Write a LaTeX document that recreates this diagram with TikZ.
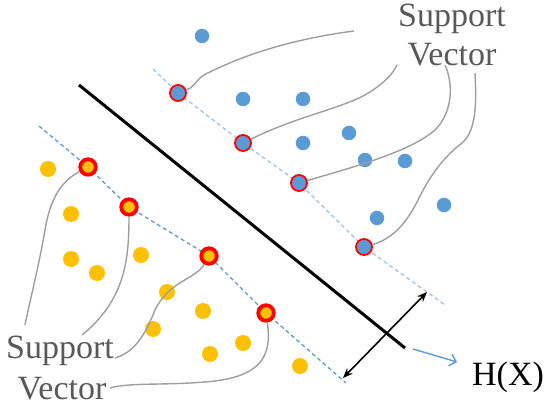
\documentclass[tikz,border=0pt]{standalone}
\usepackage{fontspec}
\setmainfont{Liberation Serif}
\newfontfamily\lblfont{Liberation Serif}
\usetikzlibrary{arrows.meta}
\definecolor{dotblue}{HTML}{5B9BD5}
\definecolor{lightblue}{HTML}{9DC3E6}
\definecolor{dotyellow}{HTML}{FFC000}
\definecolor{leadgray}{HTML}{9E9E9E}
\definecolor{txtgray}{HTML}{595959}
\pgfdeclarelayer{bg}
\pgfsetlayers{bg,main}
\begin{document}
\begin{tikzpicture}[x=1pt,y=-1pt,
  bdot/.style={circle,inner sep=0pt,minimum size=14.5pt,fill=dotblue},
  ydot/.style={circle,inner sep=0pt,minimum size=16pt,fill=dotyellow},
  bsv/.style={circle,inner sep=0pt,minimum size=16pt,fill=dotblue,draw=red,line width=1.8pt},
  ysv/.style={circle,inner sep=0pt,minimum size=15.5pt,fill=dotyellow,draw=red,line width=3.8pt},
  leader/.style={draw=leadgray,line width=1.4pt},
  margin/.style={dash pattern=on 4pt off 3pt,line width=1.3pt},
  lbl/.style={inner sep=0pt,anchor=base,text=txtgray,font=\lblfont\fontsize{34}{40}\selectfont},
]
\useasboundingbox (0,0) rectangle (550,409);

% blue class
\node[bdot] (b1) at (202,36) {};
\node[bdot] (b2) at (243,99) {};
\node[bdot] (b3) at (303,99) {};
\node[bdot] (b4) at (303,143) {};
\node[bdot] (b5) at (349,133) {};
\node[bdot] (b6) at (365,160) {};
\node[bdot] (b7) at (405,161) {};
\node[bdot] (b8) at (444,205) {};
\node[bdot] (b9) at (377,218) {};
\node[bsv] (s1) at (178,93) {};
\node[bsv] (s2) at (243,143) {};
\node[bsv] (s3) at (299,183) {};
\node[bsv] (s4) at (364,247) {};

% yellow class
\node[ydot] (y1) at (48,169) {};
\node[ydot] (y2) at (71,214) {};
\node[ydot] (y3) at (71,259) {};
\node[ydot] (y4) at (97,273) {};
\node[ydot] (y5) at (141,255) {};
\node[ydot] (y6) at (167,292) {};
\node[ydot] (y7) at (203,311) {};
\node[ydot] (y8) at (153,329) {};
\node[ydot] (y9) at (210,354) {};
\node[ydot] (y10) at (243,343) {};
\node[ydot] (y11) at (300,366) {};
\node[ysv] (v1) at (88,167) {};
\node[ysv] (v2) at (129,207) {};
\node[ysv] (v3) at (209,256) {};
\node[ysv] (v4) at (266,313) {};

% margin lines and hyperplane
\coordinate (u0) at (153,69);
\coordinate (u1) at (445,305);
\coordinate (l0) at (39,126);
\coordinate (l1) at (346,383);
\coordinate (h0) at (79,85);
\coordinate (h1) at (405,348);
\coordinate (d0) at (343,378);
\coordinate (d1) at (427,292);
\coordinate (a0) at (413,349);
\coordinate (a1) at (457,362);
\begin{pgfonlayer}{bg}
\draw[margin,lightblue] (u0) -- (s1.center) -- (s2.center) -- (s3.center) -- (s4.center) -- (u1);
\draw[margin,dotblue] (l0) -- (v1.center) -- (v2.center) -- (v3.center) -- (v4.center) -- (l1);
\end{pgfonlayer}
\draw[line width=3pt] (h0) -- (h1);
\draw[line width=1.6pt,{Stealth[length=10pt,width=8pt]}-{Stealth[length=10pt,width=8pt]}] (d0) -- (d1);
\draw[dotblue,line width=1.4pt,-{Straight Barb[length=6pt,width=12pt]}] (a0) -- (a1);

% labels
\node[lbl] (t1s) at (452,27) {Support};
\node[lbl] (t1v) at (452,66) {Vector};
\node[lbl] (t2s) at (60,359) {Support};
\node[lbl] (t2v) at (62,400) {Vector};
\node[inner sep=0pt,anchor=base west,font=\lblfont\fontsize{34}{40}\selectfont] (hx) at (472,385) {H(X)};

% leaders top
\coordinate (e1) at (354,31);
\coordinate (e2) at (397,65);
\coordinate (e3) at (445,65);
\coordinate (e4) at (475,73);
\draw[leader] (s1) .. controls (197,86) and (195,78) .. (210,72) .. controls (250,52) and (300,38) .. (e1);
\draw[leader] (s2) .. controls (300,115) and (345,108) .. (370,92) .. controls (385,82) and (392,75) .. (e2);
\draw[leader] (s3) .. controls (350,168) and (410,152) .. (435,130) .. controls (455,110) and (452,80) .. (e3);
\draw[leader] (s4) .. controls (395,238) and (408,220) .. (418,200) .. controls (428,180) and (440,160) .. (462,143) .. controls (478,130) and (476,95) .. (e4);
% leaders bottom
\coordinate (f1) at (25,325);
\coordinate (f2) at (82,335);
\coordinate (f3) at (115,358);
\coordinate (f4) at (110,388);
\draw[leader] (v1) .. controls (60,182) and (50,200) .. (45,230) .. controls (38,270) and (30,300) .. (f1);
\draw[leader] (v2) .. controls (129,260) and (125,300) .. (f2);
\draw[leader] (v3) .. controls (195,280) and (170,280) .. (155,310) .. controls (145,335) and (135,352) .. (f3);
\draw[leader] (v4) .. controls (272,355) and (262,375) .. (215,381) .. controls (170,386) and (130,382) .. (f4);
\end{tikzpicture}
\end{document}
